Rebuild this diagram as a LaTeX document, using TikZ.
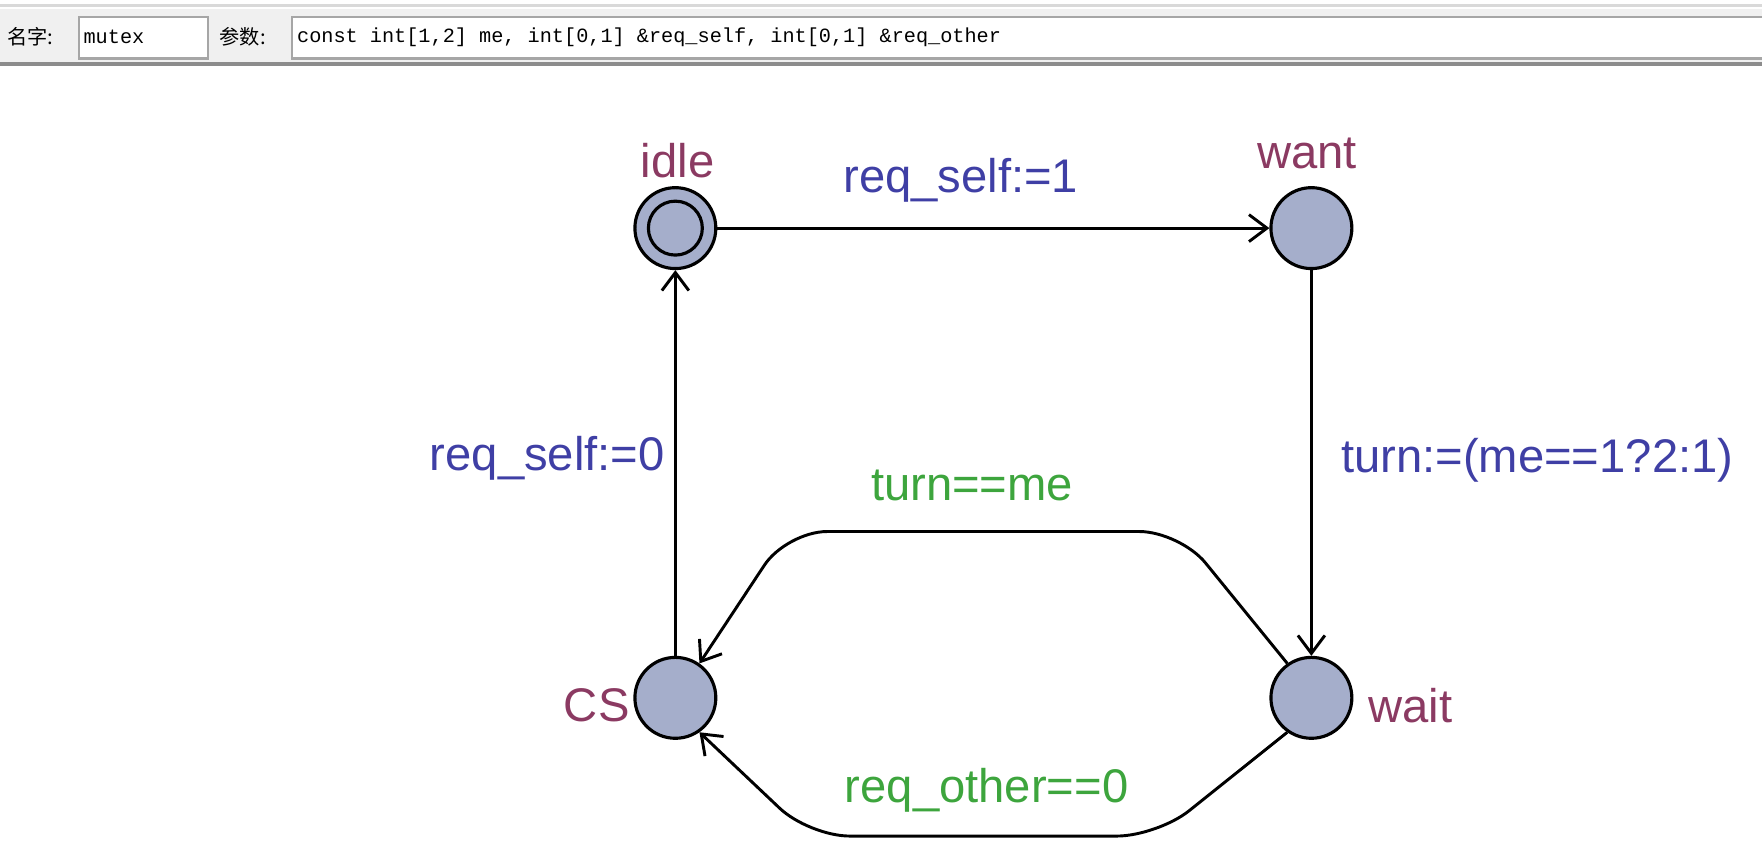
\documentclass[tikz,border=0pt]{standalone}
\usepackage{fontspec}
\setmainfont{Liberation Sans}
\newfontfamily\cjk{Noto Sans CJK SC}
\newfontfamily\monof{Liberation Mono}
\usetikzlibrary{arrows.meta,positioning}
\definecolor{locfill}{HTML}{A5AECB}
\definecolor{locname}{HTML}{8B3A62}
\definecolor{upd}{HTML}{3F3FA5}
\definecolor{grd}{HTML}{3DA53D}
\tikzset{
  loc/.style={circle,draw,line width=1.4pt,fill=locfill,minimum size=36pt,inner sep=0pt},
  lname/.style={text=locname,font=\fontsize{21}{21}\selectfont},
  update/.style={text=upd,font=\fontsize{21}{21}\selectfont},
  guard/.style={text=grd,font=\fontsize{21}{21}\selectfont},
  edge/.style={line width=1.3pt,-{Straight Barb[length=8pt,width=12pt,line width=1.3pt]},rounded corners=18pt},
  field/.style={draw=gray!70,line width=1pt,fill=white,anchor=north west,inner sep=0pt}
}
\begin{document}
\begin{tikzpicture}[x=0.5pt,y=-0.5pt]
    \useasboundingbox (0,0) rectangle (1568,760);
    % header bar
    \fill[gray!12] (0,8) rectangle (1568,57);
    \draw[gray!30,line width=1pt] (0,5) -- (1568,5);
    \draw[gray!90,line width=1.5pt] (0,57) -- (1568,57);
    \node[anchor=west,inner sep=0pt,font=\cjk\fontsize{9}{9}\selectfont] (lblname) at (6,33) {名字:};
    \draw[field] (70,15) rectangle (185,52);
    \node[anchor=west,inner sep=0pt,font=\monof\fontsize{9}{9}\selectfont] (name) at (74,33) {mutex};
    \node[anchor=west,inner sep=0pt,font=\cjk\fontsize{9}{9}\selectfont] (lblpar) at (195,33) {参数:};
    \draw[field] (260,15) rectangle (1570,52);
    \node[anchor=west,inner sep=0pt,font=\monof\fontsize{9}{9}\selectfont] (params) at (264,33) {const int[1,2] me, int[0,1] \&req\_self, int[0,1] \&req\_other};

    % locations
    \node[loc] (idle) at (601,203) {};
    \node[circle,draw,line width=1.4pt,minimum size=24pt] at (idle) {};
    \node[loc] (want) at (1167,203) {};
    \node[loc] (cs) at (601,621) {};
    \node[loc] (wait) at (1167,621) {};
    \node[lname] at (603,143) {idle};
    \node[lname] at (1163,137) {want};
    \node[lname] at (531,628) {CS};
    \node[lname] at (1255,628) {wait};

    % edges
    \draw[edge] (idle) -- (want);
    \draw[edge] (want) -- (wait);
    \draw[edge] (cs) -- (idle);
    \draw[edge] (wait.125) -- (1050,473) -- (700,473) -- (cs.55);
    \draw[edge] (wait.235) -- (1030,744) -- (720,744) -- (cs.-55);

    % labels
    \node[update] at (855,160) {req\_self:=1};
    \node[update] at (1368,410) {turn:=(me==1?2:1)};
    \node[update] at (487,408) {req\_self:=0};
    \node[guard] at (865,432) {turn==me};
    \node[guard] at (878,703) {req\_other==0};
\end{tikzpicture}
\end{document}
